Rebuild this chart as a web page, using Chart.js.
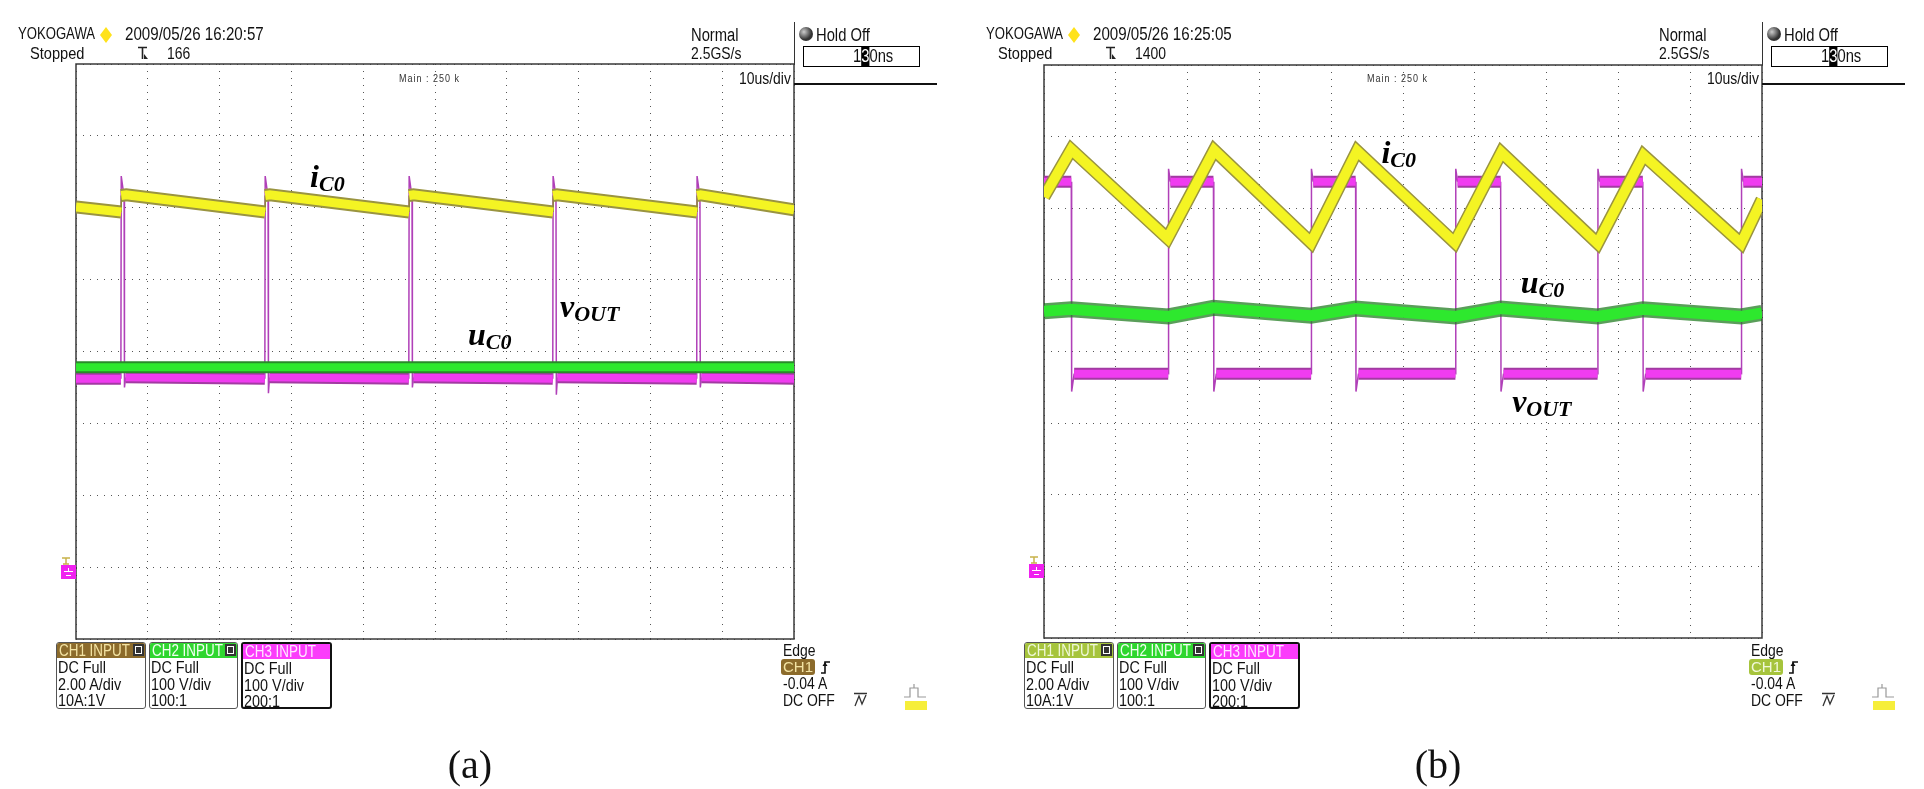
<!DOCTYPE html>
<html>
<head>
<meta charset="utf-8">
<script src="https://cdn.jsdelivr.net/npm/chart.js@4.4.1/dist/chart.umd.min.js"></script>
<style>
  body { margin: 0; width: 1924px; height: 789px; background: #fff; position: relative; overflow: hidden;
         font-family: "Liberation Sans", Arial, sans-serif; color: #111; }
  .panel { position: absolute; top: 0; width: 960px; height: 789px; }
  /* the scope font is a narrow sans: Arial squeezed to 82% */
  .t { position: absolute; white-space: nowrap; transform: scaleX(0.82); transform-origin: 0 50%; }
  .sq { display: inline-block; transform: scaleX(0.84); transform-origin: 0 50%; white-space: nowrap; }
  .abs { position: absolute; }
  canvas { position: absolute; }
  .chbox { position: absolute; top: 642px; height: 67px; border: 1px solid #555; border-radius: 3px;
           box-sizing: border-box; overflow: hidden; background: #fff; }
  .chhead { height: 15px; line-height: 15px; font-size: 16px; padding-left: 2px; white-space: nowrap; position: relative; }
  .chicon { position: absolute; right: 1px; top: 1px; width: 11px; height: 12px; background: #333; box-sizing: border-box; }
  .chicon::after { content: ""; position: absolute; left: 2px; top: 2px; width: 5px; height: 6px; border: 1px solid #fff; }
  .caption { position: absolute; font-family: "Liberation Serif", "Times New Roman", serif; font-size: 40px; transform: translateX(-50%); }
</style>
</head>
<body>
<canvas id="scopeA" width="762" height="590" style="left:40px;top:56px;width:762px;height:590px"></canvas>
<canvas id="scopeB" width="762" height="590" style="left:1008px;top:57px;width:762px;height:590px"></canvas>
<script>
// time axis in us (10 us/div), amplitude in screen divisions (8 div high, 0 = centre)

// ---- panel (a) ----
const aIcoT = [0, 6.3, 6.3, 7, 26.35, 26.35, 27, 46.4, 46.4, 47, 66.45, 66.45, 67, 86.5, 86.5, 87, 100];
const aIcoV = [2.01, 1.94, 2.17, 2.18, 1.94, 2.17, 2.18, 1.94, 2.17, 2.18, 1.94, 2.17, 2.18, 1.94, 2.17, 2.18, 1.97];
const aUcoT = [0, 100];
const aUcoV = [-0.22, -0.22];
const aVoutT = [0, 6.25, 6.3, 6.7, 6.75, 6.9,
                26.3, 26.35, 26.75, 26.8, 26.95,
                46.35, 46.4, 46.8, 46.85, 47.0,
                66.4, 66.45, 66.85, 66.9, 67.05,
                86.45, 86.5, 86.9, 86.95, 87.1, 100];
const aVoutV = [-0.38, -0.38, 2.44, 2.15, -0.5, -0.36,
                -0.38, 2.44, 2.15, -0.58, -0.36,
                -0.38, 2.44, 2.15, -0.5, -0.36,
                -0.38, 2.44, 2.15, -0.6, -0.36,
                -0.38, 2.44, 2.15, -0.5, -0.36, -0.38];

// ---- panel (b) ----
const bIcoT = [0, 3.8, 17.2, 23.7, 37.2, 43.6, 57.2, 63.7, 77.1, 83.5, 97.1, 100];
const bIcoV = [2.16, 2.82, 1.58, 2.81, 1.52, 2.8, 1.52, 2.78, 1.51, 2.74, 1.51, 2.12];
const bUcoT = [0, 3.8, 17.3, 23.6, 37.2, 43.4, 57.3, 63.6, 77.1, 83.4, 97.1, 100];
const bUcoV = [0.56, 0.59, 0.49, 0.61, 0.5, 0.6, 0.49, 0.6, 0.49, 0.59, 0.49, 0.54];
const bVoutT = [0, 3.8, 3.85, 4.2, 17.3, 17.35, 17.6, 23.6, 23.65, 24.0, 37.2, 37.25, 37.5,
                43.4, 43.45, 43.8, 57.3, 57.35, 57.6, 63.6, 63.65, 64.0, 77.1, 77.15, 77.4,
                83.4, 83.45, 83.8, 97.1, 97.15, 97.4, 100];
const bVoutV = [2.37, 2.37, -0.56, -0.31, -0.31, 2.55, 2.37, 2.37, -0.56, -0.31, -0.31, 2.55, 2.37,
                2.37, -0.56, -0.31, -0.31, 2.55, 2.37, 2.37, -0.56, -0.31, -0.31, 2.55, 2.37,
                2.37, -0.56, -0.31, -0.31, 2.55, 2.37, 2.37];

// trace labels (main letter, subscript) and where they sit, in us / div
const labelNames = ['i', 'u', 'v'];
const labelSubs = ['C0', 'C0', 'OUT'];
const aLabelT = [32.6, 54.6, 67.4];
const aLabelV = [2.29, 0.09, 0.48];
const bLabelT = [47.0, 66.4, 65.2];
const bLabelV = [2.63, 0.82, -0.84];
const groundDiv = -3;

// screen text
const panelLeft = [0, 968];
const stamps = ['2009/05/26 16:20:57', '2009/05/26 16:25:05'];
const counts = ['166', '1400'];
const captions = ['(a)', '(b)'];
const chNames = ['CH1 INPUT', 'CH2 INPUT', 'CH3 INPUT'];
const chCoupling = ['DC Full', 'DC Full', 'DC Full'];
const chScale = ['2.00 A/div', '100 V/div', '100 V/div'];
const chProbe = ['10A:1V', '100:1', '200:1'];
const ch1Fill = ['#8c6b2b', '#a6c43c'];
const ch1Ink = ['#f3e3a3', '#f0f8d8'];

function txt(parent, s, x, cy, size, extra) {
  const d = document.createElement('div');
  d.className = 't';
  d.textContent = s;
  d.style.left = x + 'px';
  d.style.top = (cy - size / 2) + 'px';
  d.style.fontSize = size + 'px';
  d.style.lineHeight = size + 'px';
  if (extra) Object.assign(d.style, extra);
  parent.appendChild(d);
  return d;
}
function box(parent, x, y, w, h, css) {
  const d = document.createElement('div');
  d.className = 'abs';
  Object.assign(d.style, {left: x + 'px', top: y + 'px', width: w + 'px', height: h + 'px'}, css || {});
  parent.appendChild(d);
  return d;
}

function buildPanel(p) {
  const el = document.createElement('div');
  el.className = 'panel';
  el.style.left = panelLeft[p] + 'px';
  document.body.appendChild(el);

  // header
  txt(el, 'YOKOGAWA', 18, 34, 16);
  box(el, 100, 27, 12, 16, {background: '#ffe21a', clipPath: 'polygon(50% 0,100% 50%,50% 100%,0 50%)'});
  txt(el, stamps[p], 125, 34, 18, {transform: 'scaleX(0.84)'});
  txt(el, 'Stopped', 30, 53, 17, {transform: 'scaleX(0.86)'});
  const trig = box(el, 137, 46, 12, 14);
  trig.innerHTML = '<svg width="12" height="14"><path d="M1 1.5H10M5.5 1.5V13" stroke="#222" stroke-width="1.6" fill="none"/><path d="M7 8L11 13L7 13Z" fill="#222"/></svg>';
  txt(el, counts[p], 167, 53, 17);
  txt(el, 'Normal', 691, 35, 18);
  txt(el, '2.5GS/s', 691, 53, 17);
  box(el, 799, 27, 14, 14, {borderRadius: '50%', background: 'radial-gradient(circle at 35% 35%, #ccc, #333 60%)'});
  txt(el, 'Hold Off', 816, 35, 18);
  box(el, 803, 46, 117, 21, {border: '1.5px solid #000', boxSizing: 'border-box'});
  const hold = txt(el, '', 853, 56, 18);
  hold.innerHTML = '1<span style="background:#000;color:#fff">3</span>0ns';
  box(el, 794, 22, 1, 43, {background: '#333'});
  box(el, 794, 83, 143, 2, {background: '#111'});
  txt(el, 'Main : 250 k', 399, 78, 11, {letterSpacing: '1.2px', color: '#333'});
  txt(el, '10us/div', 739, 78, 17);

  // channel boxes
  const bx = [56, 149, 241], bw = [90, 89, 91];
  const heads = [ch1Fill[p], '#2fd62f', '#fb3cfb'];
  const inks = [ch1Ink[p], '#f2fff2', '#ffe6ff'];
  const boxTxt = {transform: 'scaleX(0.9)'};
  for (let k = 0; k < 3; k++) {
    const b = document.createElement('div');
    b.className = 'chbox';
    b.style.left = bx[k] + 'px';
    b.style.width = bw[k] + 'px';
    if (k === 2) b.style.border = '2px solid #111';
    const h = document.createElement('div');
    h.className = 'chhead';
    h.style.background = heads[k];
    h.style.color = inks[k];
    const name = document.createElement('span');
    name.className = 'sq';
    name.textContent = chNames[k];
    h.appendChild(name);
    if (k < 2) { const ic = document.createElement('span'); ic.className = 'chicon'; h.appendChild(ic); }
    b.appendChild(h);
    txt(b, chCoupling[k], 1, 25, 16, boxTxt);
    txt(b, chScale[k], 1, 41.5, 16, boxTxt);
    txt(b, chProbe[k], 1, 57.5, 16, boxTxt);
    el.appendChild(b);
  }

  // trigger block
  txt(el, 'Edge', 783, 650, 17);
  const badge = box(el, 781, 659, 34, 16, {background: ch1Fill[p], color: ch1Ink[p], borderRadius: '3px',
    fontSize: '15px', lineHeight: '16px', textAlign: 'center'});
  badge.textContent = 'CH1';
  const edge = box(el, 820, 659, 12, 16);
  edge.innerHTML = '<svg width="12" height="16"><path d="M1 14H5V3H10" stroke="#111" stroke-width="1.6" fill="none"/><path d="M2.5 7L5 3L7.5 7Z" fill="#111"/></svg>';
  txt(el, '-0.04 A', 783, 683, 17);
  txt(el, 'DC OFF', 783, 700, 17);
  const ic1 = box(el, 853, 692, 16, 15);
  ic1.innerHTML = '<svg width="16" height="15"><path d="M1 1.5H14M2 14L6 4L9 12L13 3" stroke="#333" stroke-width="1.3" fill="none"/></svg>';
  const ic2 = box(el, 902, 683, 26, 27);
  ic2.innerHTML = '<svg width="26" height="27"><path d="M2 14H8V5H16V14H24M12 1V5" stroke="#999" stroke-width="1.2" fill="none"/><rect x="3" y="18" width="22" height="9" fill="#f6ee3a"/></svg>';

  const cap = txt(el, captions[p], 470, 765, 40);
  cap.className = 'caption';
}
buildPanel(0);
buildPanel(1);

// ---- chart helpers ----
const steep = c => Math.abs(c.p1.y - c.p0.y) > 6 * Math.abs(c.p1.x - c.p0.x);
function band(ts, vs, core, rim, thin, w, rimW) {
  const pts = () => ts.map((t, i) => ({x: t, y: vs[i]}));
  return [
    {data: pts(), borderColor: core, borderWidth: w, pointRadius: 0,
     segment: {borderColor: c => steep(c) ? 'rgba(0,0,0,0)' : undefined}},
    {data: pts(), borderColor: rim, borderWidth: rimW, pointRadius: 0,
     segment: {borderColor: c => steep(c) ? thin : undefined, borderWidth: c => steep(c) ? 1.5 : undefined}}
  ];
}

const scopeDeco = {
  id: 'scopeDeco',
  beforeDatasetsDraw(chart) {
    const {ctx, chartArea: a} = chart;
    ctx.save();
    ctx.strokeStyle = '#3a3a3a';
    ctx.lineWidth = 1.5;
    ctx.strokeRect(a.left, a.top, a.right - a.left, a.bottom - a.top);
    ctx.restore();
  },
  afterDatasetsDraw(chart, args, opts) {
    const {ctx, chartArea: a, scales: {x, y}} = chart;
    const gy = Math.round(y.getPixelForValue(opts.ground));
    const L = a.left;
    ctx.save();
    // ground level marker
    ctx.fillStyle = '#f020f0';
    ctx.fillRect(L - 15, gy - 2, 15, 14);
    ctx.strokeStyle = '#fff';
    ctx.lineWidth = 1;
    ctx.beginPath();
    ctx.moveTo(L - 12, gy + 4.5); ctx.lineTo(L - 3, gy + 4.5);
    ctx.moveTo(L - 10, gy + 8.5); ctx.lineTo(L - 5, gy + 8.5);
    ctx.moveTo(L - 7.5, gy + 1); ctx.lineTo(L - 7.5, gy + 4.5);
    ctx.stroke();
    ctx.strokeStyle = '#c8b24a';
    ctx.lineWidth = 1.5;
    ctx.beginPath();
    ctx.moveTo(L - 14, gy - 9); ctx.lineTo(L - 6, gy - 9);
    ctx.moveTo(L - 10, gy - 9); ctx.lineTo(L - 10, gy - 3);
    ctx.moveTo(L - 13, gy - 3); ctx.lineTo(L - 7, gy - 3);
    ctx.stroke();
    // trace names
    ctx.fillStyle = '#000';
    ctx.textBaseline = 'alphabetic';
    opts.names.forEach((n, i) => {
      const px = x.getPixelForValue(opts.t[i]);
      const py = y.getPixelForValue(opts.v[i]);
      ctx.font = 'italic bold 32px "Liberation Serif", "Times New Roman", serif';
      ctx.fillText(n, px, py);
      const w = ctx.measureText(n).width;
      ctx.font = 'italic bold 22px "Liberation Serif", "Times New Roman", serif';
      ctx.fillText(opts.subs[i], px + w, py + 4);
    });
    ctx.restore();
  }
};

function scope(id, datasets, pad, labelT, labelV) {
  new Chart(document.getElementById(id), {
    type: 'line',
    data: {datasets},
    plugins: [scopeDeco],
    options: {
      responsive: false,
      animation: false,
      devicePixelRatio: 1,
      events: [],
      layout: {padding: pad, autoPadding: false},
      elements: {line: {tension: 0, borderCapStyle: 'butt', borderJoinStyle: 'miter'}},
      scales: {
        x: {type: 'linear', min: 0, max: 100,
            ticks: {display: false, stepSize: 10},
            grid: {color: '#555', lineWidth: 1, drawTicks: false},
            border: {display: false, dash: [1, 6]}},
        y: {type: 'linear', min: -4, max: 4,
            ticks: {display: false, stepSize: 1},
            grid: {color: '#555', lineWidth: 1, drawTicks: false},
            border: {display: false, dash: [1, 6]}}
      },
      plugins: {
        legend: {display: false},
        tooltip: {enabled: false},
        scopeDeco: {ground: groundDiv, names: labelNames, subs: labelSubs, t: labelT, v: labelV}
      }
    }
  });
}

// first dataset is drawn on top
scope('scopeA', [
  ...band(aIcoT, aIcoV, '#f4f423', '#9a9440', '#8d8a3a', 9, 13),
  ...band(aUcoT, aUcoV, '#2ee82e', '#2a8a2a', '#2a8a2a', 8, 12),
  ...band(aVoutT, aVoutV, '#f03cf0', '#a23aa2', '#b040b8', 8, 12)
], {left: 36, top: 8, right: 8, bottom: 7}, aLabelT, aLabelV);

scope('scopeB', [
  ...band(bIcoT, bIcoV, '#f4f423', '#9a9440', '#8d8a3a', 10, 13),
  ...band(bUcoT, bUcoV, '#2ee82e', 'rgba(35,125,35,0.75)', '#2a8a2a', 11, 16),
  ...band(bVoutT, bVoutV, '#f03cf0', '#a23aa2', '#b040b8', 8, 12)
], {left: 36, top: 8, right: 8, bottom: 9}, bLabelT, bLabelV);
</script>
</body>
</html>
